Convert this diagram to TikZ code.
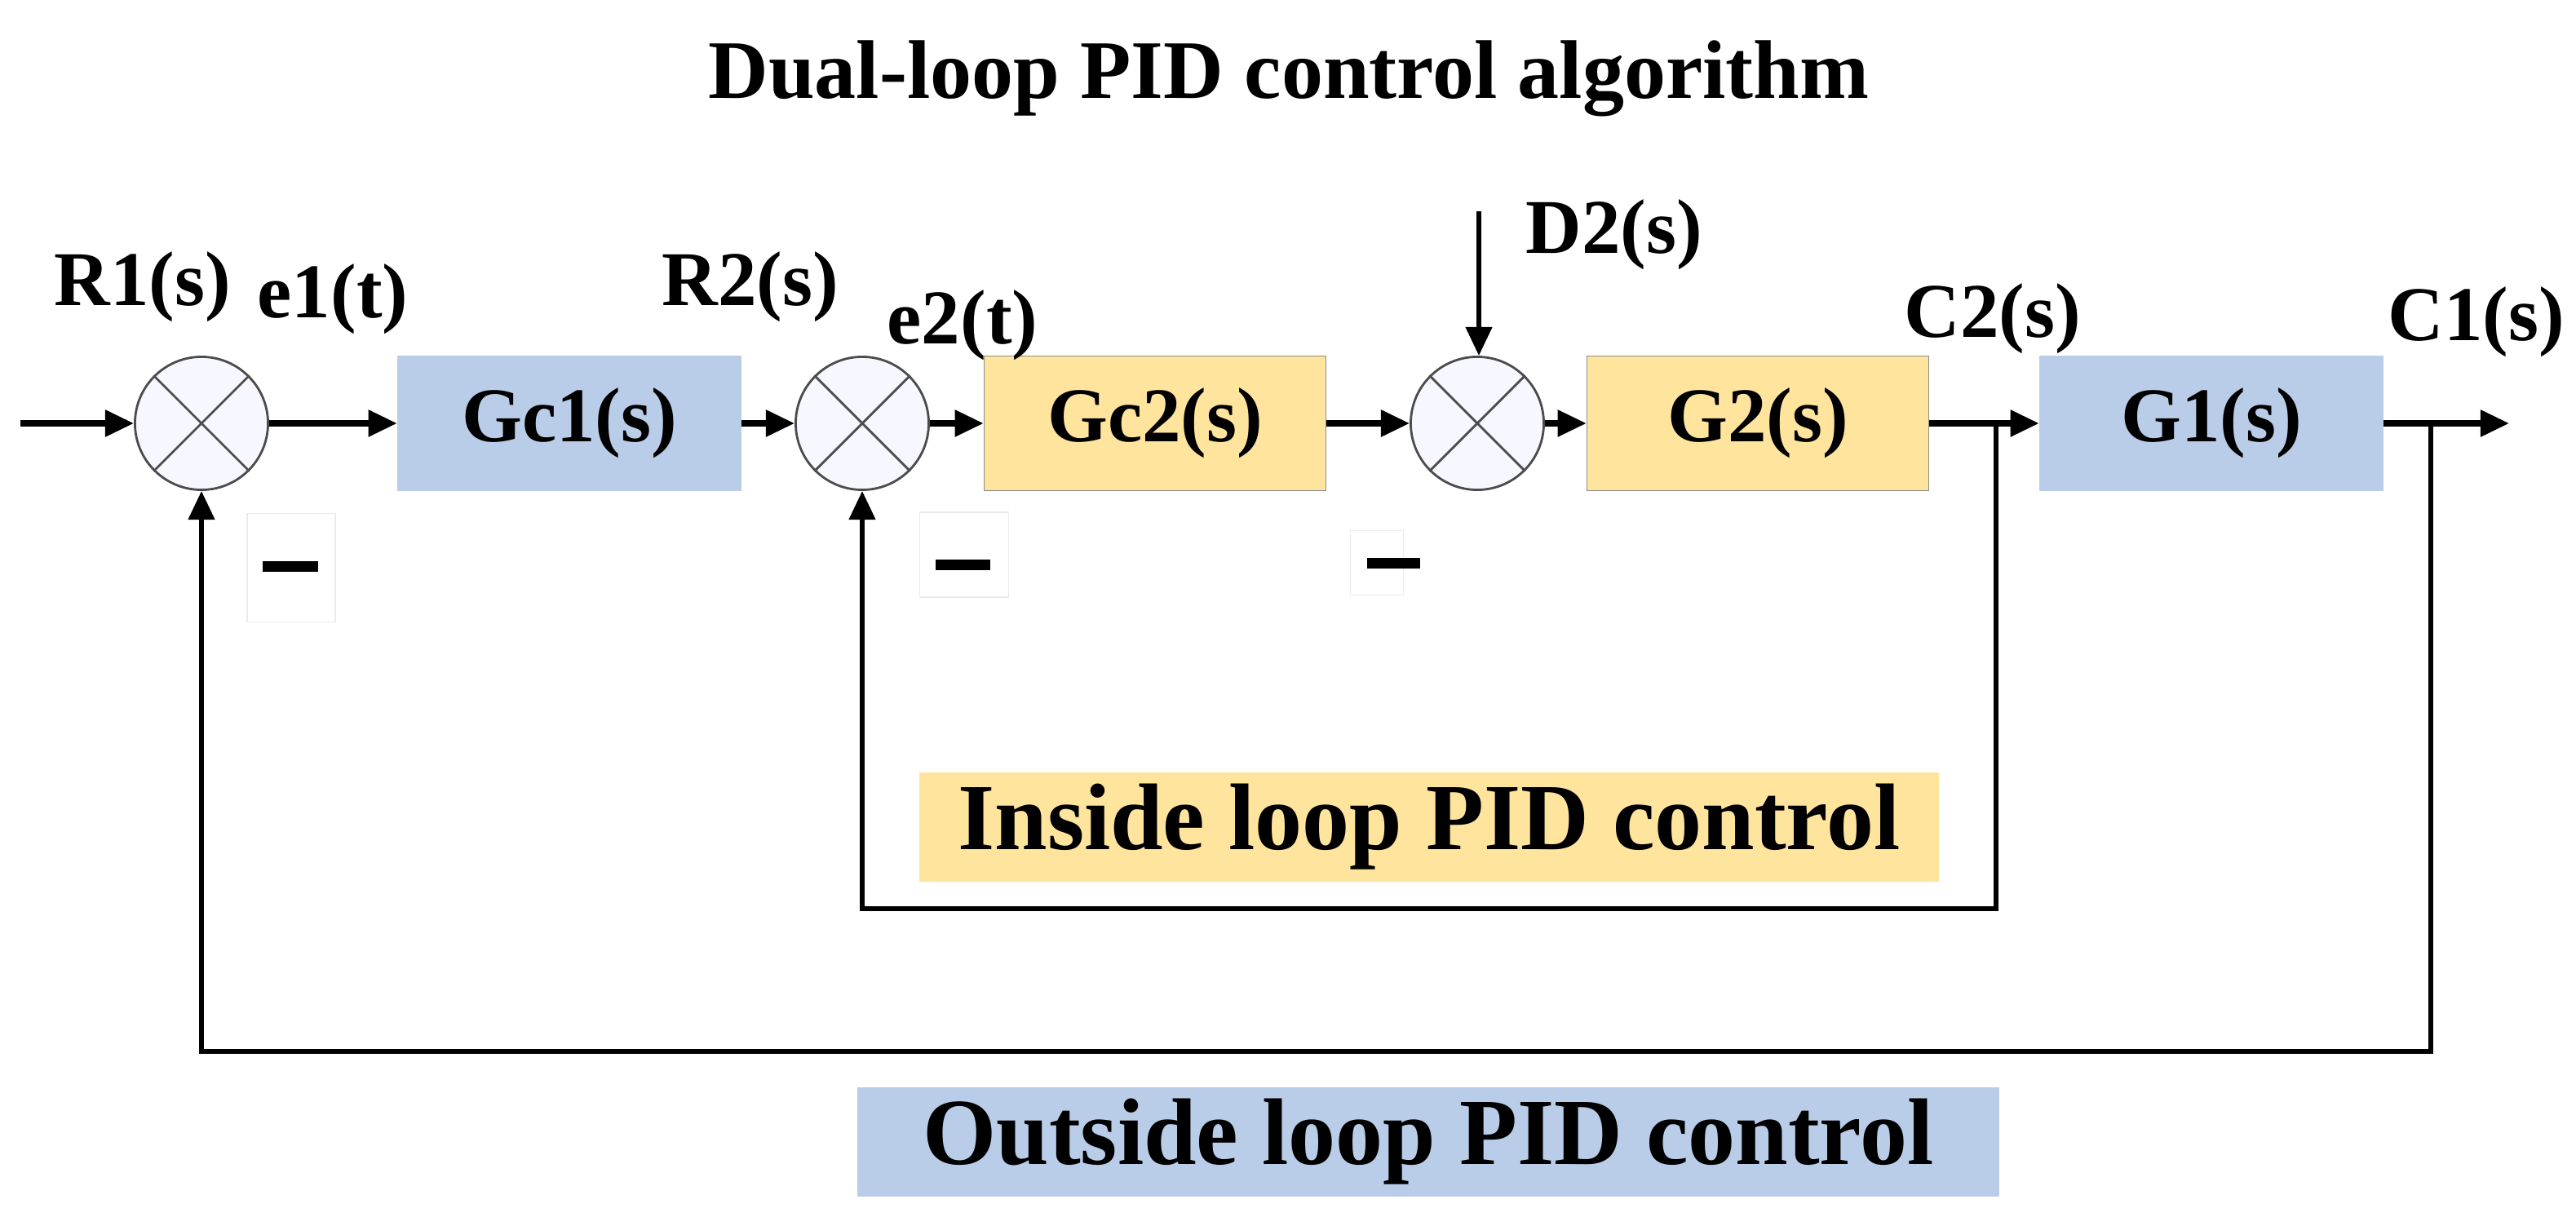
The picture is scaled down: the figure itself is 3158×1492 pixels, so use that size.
\documentclass[tikz,border=0pt]{standalone}
\usepackage{fontspec}
\setmainfont{Liberation Serif}
\usetikzlibrary{arrows.meta}
\definecolor{bblue}{HTML}{B9CDE8}
\definecolor{byel}{HTML}{FFE49D}
\begin{document}
\begin{tikzpicture}[x=0.01cm,y=-0.01cm,
  >={Triangle[length=10pt,width=9pt]},
  line/.style={line width=2pt},
  loop/.style={line width=1.6pt},
  sum/.style={circle,draw=black!70,fill=blue!3,line width=0.8pt,minimum size=1.63cm,inner sep=0pt},
  blk/.style={minimum height=1.65cm,inner sep=0pt,font=\fontsize{27}{30}\selectfont\bfseries},
  lbl/.style={font=\fontsize{27}{30}\selectfont\bfseries},
  mbox/.style={draw=black!8,line width=0.5pt,inner sep=0pt},
  big/.style={inner sep=0pt,font=\fontsize{33}{36}\selectfont\bfseries}]
\useasboundingbox (0,0) rectangle (3158,1492);
\node[font=\fontsize{29}{32}\selectfont\bfseries] (title) at (1580,96) {Dual-loop PID control algorithm};
\coordinate (in) at (25,519);
\node[sum] (s1) at (247,519) {};
\node[sum] (s2) at (1057,519) {};
\node[sum] (s3) at (1811,519) {};
\foreach \s in {s1,s2,s3}{
  \draw[black!70,line width=0.8pt] (\s.north west) -- (\s.south east) (\s.north east) -- (\s.south west);}
\node[blk,fill=bblue,minimum width=4.21cm] (gc1) at (698,519) {Gc1(s)};
\node[blk,fill=byel,draw=black!45,minimum width=4.19cm] (gc2) at (1416,519) {Gc2(s)};
\node[blk,fill=byel,draw=black!45,minimum width=4.19cm] (g2) at (2155,519) {G2(s)};
\node[blk,fill=bblue,minimum width=4.21cm] (g1) at (2711,519) {G1(s)};
\coordinate (out) at (3076,519);
\coordinate (d2) at (1813,259);
\coordinate (b2) at (2447,519);
\coordinate (b1) at (2980,519);
\draw[line,->] (in) -- (s1);
\draw[line,->] (s1) -- (gc1);
\draw[line,->] (gc1) -- (s2);
\draw[line,->] (s2) -- (gc2);
\draw[line,->] (gc2) -- (s3);
\draw[line,->] (s3) -- (g2);
\draw[line,->] (g2) -- (g1);
\draw[line,->] (g1) -- (out);
\draw[loop,->] (d2) -- (s3.north -| d2);
\draw[loop,->] (b2) -- (2447,1114) -| (s2.south);
\draw[loop,->] (b1) -- (2980,1289) -| (s1.south);
\node[lbl] (r1) at (175,352) {R1(s)};
\node[lbl] (e1) at (408,367) {e1(t)};
\node[lbl] (r2) at (920,352) {R2(s)};
\node[lbl] (e2) at (1180,399) {e2(t)};
\node[lbl,anchor=west] (dl) at (1858,288) {D2(s)};
\node[lbl] (c2) at (2443,391) {C2(s)};
\node[lbl] (c1) at (3036,395) {C1(s)};
\node[mbox,minimum width=1.08cm,minimum height=1.33cm] (m1) at (357,696) {};
\node[mbox,minimum width=1.09cm,minimum height=1.04cm] (m2) at (1182,680) {};
\node[mbox,minimum width=0.65cm,minimum height=0.79cm] (m3) at (1688,690) {};
\fill (322,688) rectangle (390,701);
\fill (1147,686) rectangle (1214,699);
\fill (1676,684) rectangle (1741,697);
\node[big,fill=byel,minimum width=12.49cm,minimum height=1.34cm] (inl) at (1752,1014) {Inside loop PID control};
\node[big,fill=bblue,minimum width=14.0cm,minimum height=1.33cm] (outl) at (1751,1400) {Outside loop PID control};
\end{tikzpicture}
\end{document}
